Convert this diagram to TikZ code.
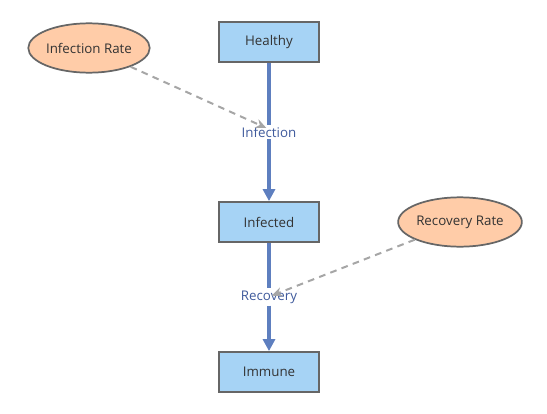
\documentclass[tikz,border=0pt]{standalone}
\usepackage{fontspec}
\setmainfont{Open Sans}
\usetikzlibrary{arrows.meta,shapes.geometric}
\definecolor{stockfill}{HTML}{A6D3F5}
\definecolor{ratefill}{HTML}{FFCCA8}
\definecolor{edgegray}{HTML}{666666}
\definecolor{flowblue}{HTML}{5E7FBF}
\definecolor{labelblue}{HTML}{3F5A9C}
\definecolor{linkgray}{HTML}{A6A6A6}

\begin{document}
\begin{tikzpicture}[
          x=0.75pt, y=-0.75pt,
          font=\fontsize{10}{12}\selectfont,
          stock/.style={draw=edgegray, line width=1.3pt, fill=stockfill, text=black!80,
            minimum width=75pt, minimum height=30pt, align=center},
          rate/.style={ellipse, draw=edgegray, line width=1.3pt, fill=ratefill, text=black!80,
            minimum width=91pt, minimum height=37pt, inner sep=0pt},
          flowlabel/.style={text=labelblue, inner sep=1.5pt},
          flow/.style={draw=flowblue, line width=2.4pt},
          link/.style={draw=linkgray, line width=1.5pt, dash pattern=on 5pt off 4pt,
            -{Stealth[length=8pt, width=7pt]}},
        ]
          \useasboundingbox (0,0) rectangle (547,414);
          \node[stock] (healthy) at (269,42) {Healthy};
          \node[stock] (infected) at (269,222) {Infected};
          \node[stock] (immune) at (269,372) {Immune};
          \node[rate] (infrate) at (89,48) {Infection Rate};
          \node[rate] (recrate) at (460,222) {Recovery Rate};
          \node[flowlabel] (infection) at (269,132) {Infection};
          \node[flowlabel] (recovery) at (269,297) {Recovery};
          \draw[flow] (healthy) -- (infection);
          \draw[flow, -{Triangle[length=9pt, width=9pt]}] (infection) -- (infected);
          \draw[flow] (infected) -- (recovery);
          \draw[flow, -{Triangle[length=9pt, width=9pt]}] (recovery) -- (immune);
          \draw[link] (infrate) -- ([xshift=-2pt, yshift=3pt]infection.center);
          \draw[link] (recrate) -- ([xshift=2pt, yshift=1pt]recovery.center);
        \end{tikzpicture}
\end{document}
